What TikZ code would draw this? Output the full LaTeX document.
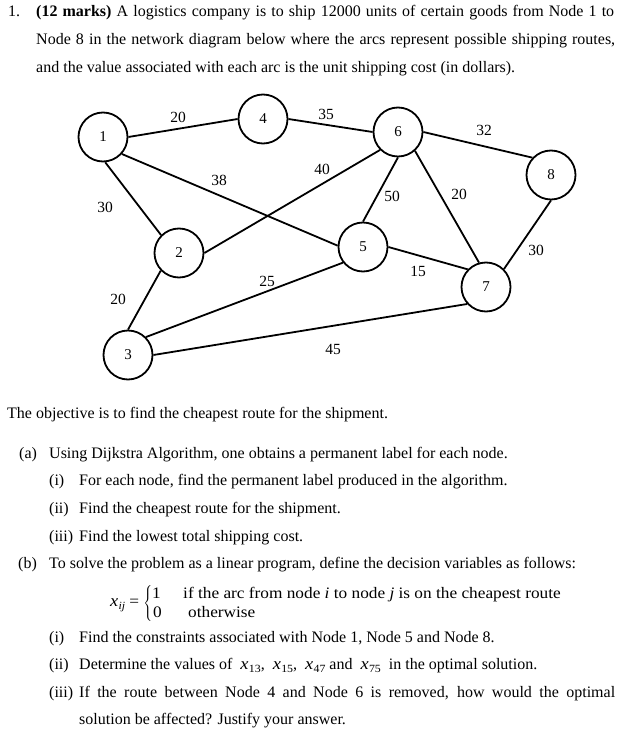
\documentclass[tikz,border=0pt]{standalone}
\usepackage{fontspec}
\setmainfont{Liberation Serif}
\newfontfamily\widefont[FakeStretch=1.08]{Liberation Serif}
\newcommand{\xvar}[1]{{\fontsize{17}{19}\selectfont\widefont\itshape x}\kern0.3pt\raisebox{-3.5pt}{\fontsize{11}{11}\selectfont\widefont #1}}
\begin{document}
\begin{tikzpicture}[x=1pt,y=-1pt,
  vtx/.style={circle,draw,line width=1.8pt,minimum size=49pt,inner sep=0pt,font=\fontsize{15}{15}\selectfont},
  arc/.style={line width=1.8pt},
  wt/.style={inner sep=0pt,font=\fontsize{15.5}{15.5}\selectfont},
  txt/.style={anchor=base west,inner sep=0pt,font=\fontsize{16}{19}\selectfont}]
\useasboundingbox (0,0) rectangle (619,735);
% graph
\node[vtx] (n1) at (103,137) {1};
\node[vtx] (n2) at (179,253) {2};
\node[vtx] (n3) at (128,355) {3};
\node[vtx] (n4) at (263,119) {4};
\node[vtx] (n5) at (363,247) {5};
\node[vtx] (n6) at (398,132) {6};
\node[vtx] (n7) at (486,287) {7};
\node[vtx] (n8) at (551,175) {8};
\draw[arc] (n1.east) -- (n4.west);
\draw[arc] (n4.east) -- (n6.west);
\draw[arc] (n1.-85) -- (n2.135);
\draw[arc] (n1.-42) -- (n5.177);
\draw[arc] (n2.east) -- (n6.225);
\draw[arc] (n2.224) -- (n3.north);
\draw[arc] (n3.45) -- (n5.218);
\draw[arc] (n3.east) -- (n7.222);
\draw[arc] (n6.south) -- (n5.north);
\draw[arc] (n6.-48) -- (n7.106);
\draw[arc] (n6.east) -- (n8.137);
\draw[arc] (n5.east) -- (n7.136);
\draw[arc] (n8.south) -- (n7.45);
\node[wt] (w14) at (178,117) {20};
\node[wt] (w46) at (326,114) {35};
\node[wt] (w15) at (219,180) {38};
\node[wt] (w26) at (322,169) {40};
\node[wt] (w12) at (105,207) {30};
\node[wt] (w23) at (118,299) {20};
\node[wt] (w35) at (267,281) {25};
\node[wt] (w37) at (333,349) {45};
\node[wt] (w65) at (392,196) {50};
\node[wt] (w67) at (459,194) {20};
\node[wt] (w68) at (484,130) {32};
\node[wt] (w57) at (418,271) {15};
\node[wt] (w87) at (536,250) {30};
% text
\node[txt] (q1) at (8,17) {1.};
\node[txt] (l1) at (36,17) {\makebox[578pt][s]{\textbf{(12 marks)} A logistics company is to ship 12000 units of certain goods from Node 1 to}};
\node[txt] (l2) at (36,45) {\makebox[579pt][s]{Node 8 in the network diagram below where the arcs represent possible shipping routes,}};
\node[txt] (l3) at (36,73) {and the value associated with each arc is the unit shipping cost (in dollars).};
\node[txt] (l4) at (7,418) {The objective is to find the cheapest route for the shipment.};
\node[txt] (pa) at (19,458) {(a)};
\node[txt] (la) at (49,458) {Using Dijkstra Algorithm, one obtains a permanent label for each node.};
\node[txt] (pai) at (49,485) {(i)};
\node[txt] (lai) at (79,485) {For each node, find the permanent label produced in the algorithm.};
\node[txt] (paii) at (49,513) {(ii)};
\node[txt] (laii) at (79,513) {Find the cheapest route for the shipment.};
\node[txt] (paiii) at (49,541) {(iii)};
\node[txt] (laiii) at (79,541) {Find the lowest total shipping cost.};
\node[txt] (pb) at (18,568) {(b)};
\node[txt] (lb) at (49,568) {To solve the problem as a linear program, define the decision variables as follows:};
\node[txt] (fx) at (110,606) {\xvar{\itshape ij} {\widefont =}};
\node[inner sep=0pt] (fbr) at (148.5,604) {\fontsize{16}{19}\selectfont$\left\{\vrule height 14pt depth 14pt width 0pt\right.$};
\node[txt] (f1) at (152,598) {\widefont 1};
\node[txt] (f0) at (153,617) {\widefont 0};
\node[txt] (f1t) at (183,598) {\widefont if the arc from node \textit{i} to node \textit{j} is on the cheapest route};
\node[txt] (f0t) at (188,617) {\widefont otherwise};
\node[txt] (pbi) at (49,642) {(i)};
\node[txt] (lbi) at (79,642) {Find the constraints associated with Node 1, Node 5 and Node 8.};
\node[txt] (pbii) at (49,669) {(ii)};
\node[txt] (lbii) at (79,669) {Determine the values of \ \xvar{13}, \ \xvar{15}, \ \xvar{47} and \ \xvar{75} \ in the optimal solution.};
\node[txt] (pbiii) at (49,697) {(iii)};
\node[txt] (lbiii) at (79,697) {\makebox[536pt][s]{If the route between Node 4 and Node 6 is removed, how would the optimal}};
\node[txt] (lbiv) at (79,724) {solution be affected? Justify your answer.};
\end{tikzpicture}
\end{document}
